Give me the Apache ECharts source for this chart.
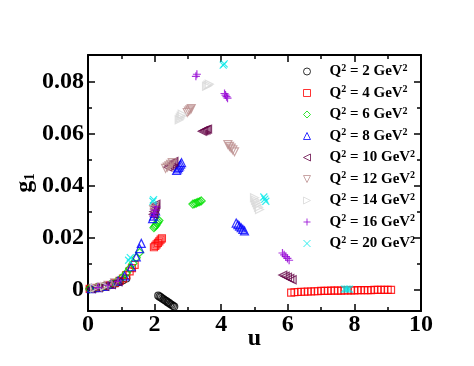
<!DOCTYPE html>
<html><head><meta charset="utf-8">
<script src="https://cdn.jsdelivr.net/npm/echarts@6/dist/echarts.min.js"></script>
<style>html,body{margin:0;padding:0;background:#fff}#c{width:474px;height:366px}</style>
</head><body><div id="c"></div>
<script>
// ---- data (u, g1) ----
const qValues = ['2','4','6','8','10','12','14','16','20'];
const xTickLabels = [0,2,4,6,8,10];
const yTickLabels = [0,0.02,0.04,0.06,0.08];
const yMinorTicks = [0.01,0.03,0.05,0.07];

const q2 = [[0.05,0.0006],[0.15,0.0007],[0.25,0.0009],[0.35,0.0011],[0.45,0.0013],[0.55,0.0016],[0.65,0.0019],[0.75,0.0023],[0.85,0.0027],[0.95,0.0032],[1.05,0.0038],[1.15,0.0045],
  [2.11,-0.0021],[2.15,-0.0025],[2.19,-0.0028],[2.23,-0.0032],[2.27,-0.0035],[2.31,-0.0039],[2.35,-0.0042],[2.39,-0.0046],[2.43,-0.0049],[2.47,-0.0053],[2.51,-0.0056],[2.55,-0.0060],[2.59,-0.0063]];
const q4 = [[0.05,0.0005],[0.2,0.0008],[0.35,0.0011],[0.5,0.0015],[0.65,0.002],[0.8,0.0027],[0.95,0.0036],[1.05,0.0045],[1.15,0.0058],[1.25,0.0072],[1.32,0.0085],[1.4,0.0097],
  [1.98,0.0165],[2.02,0.0170],[2.06,0.0176],[2.1,0.0182],[2.14,0.0188],[2.18,0.0194],[2.22,0.0199],
  [6.1,-0.0009],[6.2,-0.0008],[6.3,-0.0007],[6.4,-0.0006],[6.5,-0.0006],[6.6,-0.0005],[6.7,-0.0005],[6.8,-0.0004],[6.9,-0.0004],[7.0,-0.0003],[7.1,-0.0003],[7.2,-0.0003],[7.3,-0.0002],[7.4,-0.0002],[7.5,-0.0002],[7.6,-0.0002],[7.7,-0.0001],[7.8,-0.0001],[7.9,-0.0001],[8.0,-0.0001],[8.1,0],[8.2,0],[8.3,0],[8.4,0],[8.5,0],[8.6,0.0001],[8.7,0.0001],[8.8,0.0001],[8.9,0.0001],[9.0,0.0001],[9.1,0.0001]];
const q6 = [[0.05,0.0005],[0.25,0.0009],[0.45,0.0013],[0.65,0.0021],[0.85,0.0032],[1.0,0.0046],[1.15,0.0066],[1.25,0.0083],[1.35,0.0103],[1.45,0.0125],[1.55,0.0145],
  [1.98,0.0240],[2.01,0.0245],[2.04,0.0250],[2.07,0.0256],[2.1,0.0262],[2.13,0.0268],
  [3.15,0.0331],[3.2,0.0333],[3.25,0.0335],[3.3,0.0338],[3.35,0.0340],[3.4,0.0343]];
const q8 = [[0.1,0.0006],[0.3,0.001],[0.5,0.0015],[0.7,0.0023],[0.9,0.0035],[1.1,0.0055],[1.3,0.009],[1.45,0.0128],[1.55,0.016],[1.6,0.018],
  [1.94,0.0275],[1.97,0.0285],[2.0,0.0295],[2.03,0.0305],
  [2.66,0.0460],[2.69,0.0466],[2.72,0.0472],[2.75,0.0478],[2.78,0.0484],[2.81,0.0490],
  [4.45,0.0258],[4.5,0.0252],[4.55,0.0246],[4.6,0.0240],[4.65,0.0234],[4.7,0.0228]];
const q10 = [[0.1,0.0006],[0.3,0.001],[0.5,0.0015],[0.7,0.0022],[0.9,0.0032],
  [1.96,0.0292],[1.98,0.0302],[2.0,0.0312],[2.02,0.0322],[2.04,0.0330],
  [2.4,0.0473],[2.45,0.0478],[2.5,0.0484],[2.55,0.0490],[2.58,0.0495],
  [3.43,0.0611],[3.47,0.0613],[3.51,0.0615],[3.55,0.0617],[3.59,0.0619],
  [5.85,0.0058],[5.92,0.0054],[5.99,0.0050],[6.06,0.0045],[6.13,0.0040]];
const q12 = [[0.15,0.0007],[0.4,0.0012],[0.6,0.0019],[0.8,0.0028],
  [1.97,0.0310],[2.0,0.0320],
  [2.33,0.0468],[2.38,0.0473],[2.43,0.0478],[2.48,0.0484],[2.53,0.0490],
  [2.98,0.0683],[3.02,0.0688],[3.06,0.0693],[3.1,0.0698],
  [4.2,0.0560],[4.25,0.0553],[4.3,0.0546],[4.35,0.0539],[4.4,0.0532]];
const q14 = [[0.2,0.0008],[0.5,0.0015],
  [2.74,0.0655],[2.77,0.0662],[2.8,0.0669],[2.83,0.0676],
  [3.56,0.0784],[3.6,0.0788],[3.64,0.0792],
  [5.0,0.0355],[5.03,0.0346],[5.06,0.0337],[5.09,0.0328],[5.12,0.0319],[5.15,0.0310]];
const q16 = [[0.3,0.001],[0.6,0.0019],[0.9,0.0034],
  [1.96,0.0285],[1.99,0.0296],[2.02,0.0308],[2.05,0.0320],
  [3.24,0.0822],[3.27,0.0830],
  [4.1,0.0756],[4.13,0.0750],[4.16,0.0744],[4.19,0.0738],
  [5.84,0.0143],[5.89,0.0136],[5.94,0.0129],[5.99,0.0122],[6.04,0.0115]];
const q20 = [[1.22,0.0115],[1.27,0.0125],
  [1.95,0.0342],[1.97,0.0348],
  [4.06,0.0865],[4.09,0.0870],
  [5.28,0.0358],[5.31,0.0350],[5.34,0.0342],
  [7.7,0.0004],[7.75,0.0004],[7.8,0.0004],[7.85,0.0004]];

// ---- styles ----
const seriesData = [q2,q4,q6,q8,q10,q12,q14,q16,q20];
const colors = ['#000000','#ff0000','#00e000','#0000ff','#670748','#bc8f8f','#d8d8d8','#9400d3','#00e8e8'];
const symbols = ['circle','rect','diamond','path://M5,0L10,10L0,10Z','path://M0,5L10,0L10,10Z','path://M0,0L10,0L5,10Z','path://M10,5L0,0L0,10Z','path://M5,0L5,10M0,5L10,5','path://M0,0L10,10M10,0L0,10'];
const sizes = [7,7,8,8,8,8,8,8,7];
const FONT = '"Liberation Serif","Times New Roman",serif';

const series = seriesData.map((d,i)=>({
  name: qValues[i],
  type: 'scatter',
  data: d,
  symbol: symbols[i],
  symbolSize: sizes[i],
  itemStyle: {color: 'rgba(255,255,255,0)', borderColor: colors[i], borderWidth: 1.2},
  emphasis: {disabled: true},
  animation: false
}));

const axisLineStyle = {show:true, onZero:false, lineStyle:{color:'#000', width:2}};
const noLine = {show:false, onZero:false};
const yMin = -0.008, yMax = 0.0904;

const chart = echarts.init(document.getElementById('c'));
chart.setOption({
  animation: false,
  grid: {left: 88, right: 53, top: 55, bottom: 55, containLabel: false, outerBoundsMode: 'none'},
  legend: {
    orient: 'vertical', left: 298, top: 58,
    itemWidth: 7, itemHeight: 7, itemGap: 5.5,
    itemStyle: {borderWidth: 1},
    data: qValues,
    formatter: n => '{b|Q}{s|2}{b| = ' + n + ' GeV}{s|2}',
    textStyle: {
      padding: [0,0,0,14],
      rich: {
        b: {fontFamily: FONT, fontWeight: 'bold', fontSize: 15, lineHeight: 17, color: '#000'},
        s: {fontFamily: FONT, fontWeight: 'bold', fontSize: 10, lineHeight: 10, verticalAlign: 'top', color: '#000'}
      }
    }
  },
  xAxis: [
    {type:'value', min:0, max:10, interval:2, position:'bottom',
     axisLine: axisLineStyle,
     axisTick: {show:true, inside:true, length:7, lineStyle:{width:1.5,color:'#000'}},
     minorTick: {show:true, splitNumber:2, length:4, lineStyle:{width:1.5,color:'#000'}},
     splitLine:{show:false},
     axisLabel: {margin:2, fontFamily:FONT, fontWeight:'bold', fontSize:24, color:'#000',
                 formatter: v => xTickLabels.includes(v) ? String(v) : ''},
     name: 'u', nameLocation:'middle', nameGap: 16, nameMoveOverlap: false,
     nameTextStyle: {fontFamily:FONT, fontWeight:'bold', fontSize:24, color:'#000'}},
    {type:'value', min:0, max:10, interval:2, position:'top',
     axisLine: axisLineStyle,
     axisTick: {show:true, inside:true, length:7, lineStyle:{width:1.5,color:'#000'}},
     minorTick: {show:true, splitNumber:2, length:4, lineStyle:{width:1.5,color:'#000'}},
     splitLine:{show:false}, axisLabel:{show:false}}
  ],
  yAxis: [
    {type:'value', min:yMin, max:yMax, position:'left',
     axisLine: axisLineStyle,
     axisTick: {show:true, inside:true, length:7, customValues: yTickLabels, lineStyle:{width:1.5,color:'#000'}},
     splitLine:{show:false},
     axisLabel: {margin:4, customValues: yTickLabels, fontFamily:FONT, fontWeight:'bold', fontSize:24, color:'#000',
                 formatter: v => v === 0 ? '0' : v.toFixed(2)},
     name: '{a|g}{b|1}', nameLocation:'middle', nameGap: 50, nameRotate: 90, nameMoveOverlap: false,
     nameTextStyle: {rich: {
       a: {fontFamily:FONT, fontWeight:'bold', fontSize:24, lineHeight:26, color:'#000'},
       b: {fontFamily:FONT, fontWeight:'bold', fontSize:15, lineHeight:15, verticalAlign:'bottom', color:'#000'}
     }}},
    {type:'value', min:yMin, max:yMax, position:'left',
     axisLine: noLine,
     axisTick: {show:true, inside:true, length:4, customValues: yMinorTicks, lineStyle:{width:1.5,color:'#000'}},
     splitLine:{show:false}, axisLabel:{show:false}},
    {type:'value', min:yMin, max:yMax, position:'right',
     axisLine: axisLineStyle,
     axisTick: {show:true, inside:true, length:7, customValues: yTickLabels, lineStyle:{width:1.5,color:'#000'}},
     splitLine:{show:false}, axisLabel:{show:false}},
    {type:'value', min:yMin, max:yMax, position:'right',
     axisLine: noLine,
     axisTick: {show:true, inside:true, length:4, customValues: yMinorTicks, lineStyle:{width:1.5,color:'#000'}},
     splitLine:{show:false}, axisLabel:{show:false}}
  ],
  series: series
});
</script>
</body></html>
